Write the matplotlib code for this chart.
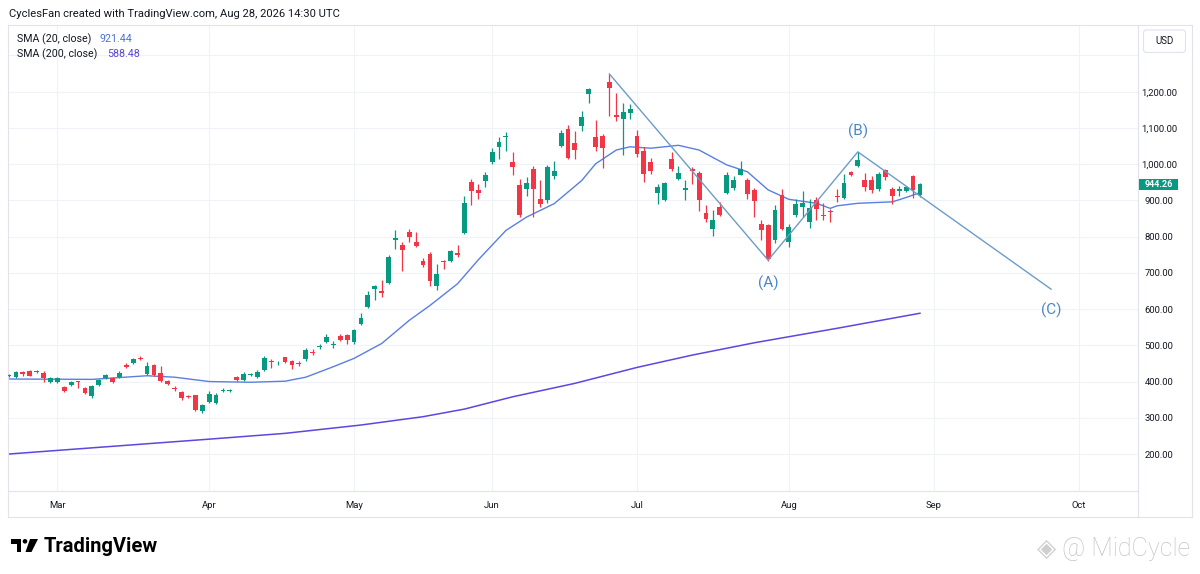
import numpy as np
import pandas as pd
import matplotlib
matplotlib.use("Agg")
import matplotlib.pyplot as plt
from matplotlib.patches import Rectangle, FancyBboxPatch, Polygon, Circle
from matplotlib.transforms import blended_transform_factory

# ---- data ----
holidays = ["2026-04-03", "2026-05-25", "2026-06-19", "2026-07-03", "2026-09-07"]

opens = [414, 413, 425, 429, 425, 424, 399,
         399, 385, 390, 400, 382, 360, 390, 409, 410, 413, 447, 450, 466, 422, 445, 424, 402, 382, 370, 359, 362, 319,
         344, 341, 373, 374, 413, 404, 418, 413, 431, 456, 450, 467, 457, 451, 461, 480, 495, 510, 501, 525, 528,
         508, 558, 606, 656, 650, 673, 792, 776, 812, 785, 734, 753, 663, 733, 732, 755, 811, 952, 929, 953,
         1005, 1047, 1074, 1006, 943, 932, 987, 904, 900, 966, 1051, 1097, 1058, 1104, 1194, 1076, 1079, 1228, 1137, 1125, 1140,
         1079, 1037, 1005, 920, 900, 1015, 960, 930, 987, 975, 865, 822, 883, 920, 934, 971, 957, 930, 835, 831, 790, 916,
         785, 861, 883, 840, 900, 861, 872, 912, 907, 978, 996, 955, 957, 932, 984, 932, 926, 925, 966, 916]
highs = [422, 430, 430, 432, 433, 428, 413,
         413, 388, 402, 402, 384, 390, 408, 422, 413, 428, 450, 464, 470, 455, 448, 442, 405, 388, 373, 362, 364, 338,
         375, 368, 381, 380, 416, 426, 424, 431, 470, 461, 456, 469, 460, 456, 493, 489, 505, 532, 511, 530, 531,
         546, 589, 650, 667, 681, 748, 817, 784, 820, 812, 742, 757, 725, 735, 764, 778, 913, 960, 946, 978,
         1045, 1074, 1088, 1033, 960, 964, 996, 955, 999, 1010, 1094, 1109, 1092, 1146, 1210, 1122, 1082, 1249, 1196, 1168, 1166,
         1094, 1047, 1017, 946, 952, 1033, 996, 955, 992, 980, 886, 874, 895, 978, 966, 1010, 962, 935, 847, 835, 886, 932,
         834, 904, 927, 904, 909, 892, 877, 932, 973, 982, 1033, 975, 966, 978, 988, 938, 941, 941, 970, 947]
lows = [412, 410, 415, 414, 424, 400, 397,
        396, 372, 388, 382, 366, 355, 388, 407, 397, 411, 437, 448, 459, 418, 415, 398, 390, 373, 350, 354, 318, 313,
        340, 338, 371, 372, 401, 401, 416, 410, 428, 438, 446, 452, 436, 442, 458, 473, 490, 507, 492, 513, 505,
        505, 555, 603, 626, 633, 670, 767, 705, 785, 770, 716, 665, 652, 710, 729, 745, 806, 886, 904, 938,
        1000, 1015, 1036, 969, 855, 913, 854, 881, 894, 959, 1046, 1013, 1013, 1091, 1169, 1036, 989, 1134, 1120, 1024, 1125,
        1019, 950, 974, 891, 898, 982, 955, 900, 946, 872, 840, 803, 858, 918, 930, 969, 904, 854, 791, 734, 782, 817,
        771, 854, 854, 824, 845, 845, 840, 895, 905, 966, 993, 927, 920, 927, 957, 889, 913, 922, 907, 909]
closes = [419, 427, 422, 416, 428, 409, 411,
          411, 374, 399, 398, 369, 387, 404, 418, 399, 424, 439, 461, 461, 442, 418, 402, 393, 380, 354, 357, 321, 335,
          367, 364, 378, 377, 404, 422, 420, 427, 466, 453, 452, 455, 445, 449, 487, 478, 498, 523, 504, 516, 516,
          541, 576, 638, 664, 644, 745, 796, 762, 799, 774, 721, 677, 698, 731, 760, 748, 892, 926, 920, 969,
          1033, 1062, 1077, 992, 860, 949, 932, 889, 993, 980, 1085, 1016, 1039, 1131, 1207, 1048, 1045, 1210, 1129, 1143, 1152,
          1028, 973, 981, 937, 949, 987, 975, 933, 981, 900, 849, 847, 861, 969, 957, 987, 918, 898, 817, 737, 874, 822,
          826, 891, 892, 880, 877, 858, 867, 910, 948, 969, 1012, 937, 929, 973, 964, 911, 932, 938, 929, 944.26]

sma20_bar = [0, 12, 20, 24, 29, 35, 40, 43, 47, 50, 54, 58, 61, 65, 68, 72, 75, 79, 83, 85, 88, 90, 93, 97,
             100, 104, 107, 110, 113, 117, 119, 120, 123, 128, 130, 132]
sma20_val = [407, 406, 416, 412, 400, 398, 401, 412, 441, 464, 505, 569, 610, 670, 736, 817, 854, 891, 955, 1001,
             1039, 1048, 1044, 1052, 1039, 998, 979, 929, 903, 892, 878, 885, 892, 896, 908, 921.44]
sma200_bar = [0, 29, 40, 51, 60, 66, 73, 82, 91, 99, 108, 120, 132]
sma200_val = [200, 241, 257, 280, 303, 324, 358, 395, 439, 473, 507, 547, 588.48]

wave_bar = [87, 110, 123, 151]
wave_price = [1249, 735, 1034, 655]
wave_labels = ["", "(A)", "(B)", "(C)"]

price_ticks = list(range(200, 1301, 100))

# trading calendar
days = pd.bdate_range("2026-02-19", "2026-10-30")
days = days[~days.isin(pd.to_datetime(holidays))]
n = len(closes)
month_first = [i for i in range(1, len(days)) if days[i].month != days[i - 1].month]
month_names = [days[i].strftime("%b") for i in month_first]

# ---- figure ----
W, H = 1200, 574
fig = plt.figure(figsize=(W / 100, H / 100), dpi=100)
fig.patch.set_facecolor("white")
plt.rcParams["font.family"] = ["Roboto", "DejaVu Sans"]

def fx(px):
    return px / W

def fy(py):
    return 1 - py / H

ax = fig.add_axes([fx(8), fy(491), fx(1138) - fx(8), fy(25) - fy(491)])
ax.set_xlim(-0.15, 163.6)
ax.set_ylim(97.9, 1384.1)

ax.set_yticks(price_ticks)
ax.set_yticklabels(["" if p > 1200 else f"{p:,.2f}" for p in price_ticks], ha="center")
ax.yaxis.tick_right()
ax.tick_params(axis="y", length=0, pad=15, labelsize=6.8, labelcolor="#131722")
ax.set_xticks(month_first)
ax.set_xticklabels(month_names)
ax.tick_params(axis="x", length=0, pad=7, labelsize=6.8, labelcolor="#131722")
ax.grid(True, color="#eff2f6", linewidth=0.8)
ax.set_axisbelow(True)
for s in ax.spines.values():
    s.set_color("#e0e3eb")
    s.set_linewidth(0.8)

# candles
o = np.array(opens, float)
hgh = np.array(highs, float)
low = np.array(lows, float)
c = np.array(closes, float)
x = np.arange(n)
cols = np.where(c >= o, "#089981", "#f23645")
ax.vlines(x, low, hgh, colors=cols, linewidth=0.9, zorder=3)
body_h = np.maximum(np.abs(c - o), 2.5)
ax.bar(x, body_h, bottom=np.minimum(o, c), width=0.7, color=cols, linewidth=0, zorder=4)

# moving averages
ax.plot(sma20_bar, sma20_val, color="#5a7fe0", linewidth=1.0, zorder=2)
ax.plot(sma200_bar, sma200_val, color="#5c47e0", linewidth=1.1, zorder=2)

# wave count
ax.plot(wave_bar, wave_price, color="#6c9cc8", linewidth=1.0, zorder=5)
offsets = [0, -16.5, 15, -15]
for b, p, t, off in zip(wave_bar, wave_price, wave_labels, offsets):
    if t:
        ax.annotate(t, (b, p), xytext=(0, off), textcoords="offset points",
                    ha="center", va="center", fontsize=11, color="#4a86c4")

# last price tag
tr = blended_transform_factory(fig.transFigure, ax.transData)
tag_h = 11.4 / 0.3623
ax.add_patch(Rectangle((fx(1139.3), closes[-1] - tag_h / 2), fx(1178) - fx(1139.3), tag_h,
                       transform=tr, facecolor="#089981", edgecolor="none", clip_on=False, zorder=6))
ax.text(fx(1158.7), closes[-1], f"{closes[-1]:.2f}", transform=tr, ha="center", va="center",
        color="white", fontsize=6.5, fontweight="bold", clip_on=False, zorder=7)

# frame
def px_line(x0, y0, x1, y1):
    fig.add_artist(plt.Line2D([fx(x0), fx(x1)], [fy(y0), fy(y1)], color="#e0e3eb", linewidth=0.8))

px_line(1138, 25, 1192, 25)
px_line(1192, 25, 1192, 517)
px_line(8, 517, 1192, 517)
px_line(8, 491, 8, 517)
px_line(1138, 491, 1138, 517)

# USD box
fig.add_artist(FancyBboxPatch((1143.5 / 100, (H - 52.5) / 100), 42 / 100, 22.5 / 100,
                              boxstyle="round,pad=0,rounding_size=0.03", transform=fig.dpi_scale_trans,
                              facecolor="white", edgecolor="#e0e3eb", linewidth=0.8))
fig.text(fx(1164.5), fy(41.5), "USD", ha="center", va="center", fontsize=7, color="#131722")

# header and legend
fig.text(fx(9), fy(14), "CyclesFan created with TradingView.com, Aug 28, 2026 14:30 UTC",
         ha="left", va="center", fontsize=8.1, color="#131722")
fig.text(fx(17), fy(39.5), "SMA (20, close)", ha="left", va="center", fontsize=7.7, color="#131722")
fig.text(fx(100), fy(39.5), f"{sma20_val[-1]:.2f}", ha="left", va="center", fontsize=7.7, color="#4a6fdc")
fig.text(fx(17), fy(54), "SMA (200, close)", ha="left", va="center", fontsize=7.7, color="#131722")
fig.text(fx(107), fy(54), f"{sma200_val[-1]:.2f}", ha="left", va="center", fontsize=7.7, color="#5b45d6")

# TradingView logo
def px_pt(px, py):
    return (px / 100, (H - py) / 100)

logo_t = [px_pt(11, 539), px_pt(21, 539), px_pt(21, 552), px_pt(16.5, 552), px_pt(16.5, 543.5), px_pt(11, 543.5)]
fig.add_artist(Polygon(logo_t, closed=True, transform=fig.dpi_scale_trans, facecolor="#000000", edgecolor="none"))
fig.add_artist(Circle(px_pt(25, 541.3), 2.3 / 100, transform=fig.dpi_scale_trans, facecolor="#000000", edgecolor="none"))
logo_v = [px_pt(30, 539), px_pt(38, 539), px_pt(31.5, 552), px_pt(25.5, 552)]
fig.add_artist(Polygon(logo_v, closed=True, transform=fig.dpi_scale_trans, facecolor="#000000", edgecolor="none"))
fig.text(fx(44), fy(546), "TradingView", ha="left", va="center", fontsize=14.5, fontweight="bold", color="#000000")

# watermark
fig.text(fx(1047), fy(549), "◈", ha="center", va="center", fontsize=18, color="#cfcfcf", family="DejaVu Sans")
fig.text(fx(1062), fy(549), "@ MidCycle", ha="left", va="center", fontsize=18, fontweight="light", color="#c4c4c4")

fig.savefig("out.png", dpi=100)
